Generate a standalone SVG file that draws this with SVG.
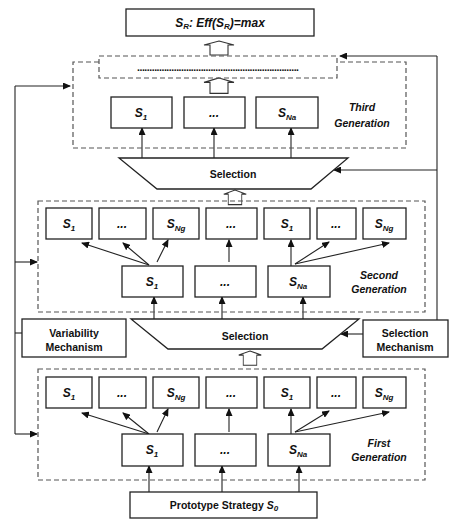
<svg xmlns="http://www.w3.org/2000/svg" width="474" height="527" viewBox="0 0 474 527" xmlns:xlink="http://www.w3.org/1999/xlink">
<style>
.box{fill:#fff;stroke:#222;stroke-width:1.3}
.dash{fill:none;stroke:#555;stroke-width:1.2;stroke-dasharray:5,3}
.ln{fill:none;stroke:#222;stroke-width:1.1}
.t{font-family:"Liberation Sans",Arial,sans-serif;font-weight:bold;font-size:10.5px;fill:#111;text-anchor:middle}
.i{font-style:italic}
.s{font-family:"Liberation Sans",Arial,sans-serif;font-weight:bold;font-style:italic;font-size:12px;fill:#111;text-anchor:middle}
.sub{font-size:8px}
.hol{fill:#fff;stroke:#333;stroke-width:1.1}
</style>
<defs>
<marker id="ah" markerWidth="8" markerHeight="7" refX="7" refY="3.5" orient="auto" markerUnits="userSpaceOnUse">
<path d="M0,0 L8,3.5 L0,7 Z" fill="#111"/>
</marker>
<path id="hollow" d="M0,0 L15,4 L9,4 L9,14 L-9,14 L-9,4 L-15,4 Z"/>
</defs>

<g id="connectors">
<path class="ln" d="M15,86 V434"/>
<path class="ln" d="M15,86 H70" marker-end="url(#ah)"/>
<path class="ln" d="M15,262 H37" marker-end="url(#ah)"/>
<path class="ln" d="M15,434 H37" marker-end="url(#ah)"/>
<path class="ln" d="M15,333 H22"/>
<path class="ln" d="M437,56 V320"/>
<path class="ln" d="M437,56 H340" marker-end="url(#ah)"/>
<path class="ln" d="M437,170 H334" marker-end="url(#ah)"/>
<path class="ln" d="M363,334 H341" marker-end="url(#ah)"/>
<path class="ln" d="M149,492 V466" marker-end="url(#ah)"/>
<path class="ln" d="M222,492 V466" marker-end="url(#ah)"/>
<path class="ln" d="M299,492 V466" marker-end="url(#ah)"/>
<path class="ln" d="M149,434 L82,413" marker-end="url(#ah)"/>
<path class="ln" d="M149,434 L123,413" marker-end="url(#ah)"/>
<path class="ln" d="M157,432 L168,409" marker-end="url(#ah)"/>
<path class="ln" d="M229,432 V409" marker-end="url(#ah)"/>
<path class="ln" d="M291,434 V409" marker-end="url(#ah)"/>
<path class="ln" d="M295,432 L329,411" marker-end="url(#ah)"/>
<path class="ln" d="M295,432 L389,412" marker-end="url(#ah)"/>
<path class="ln" d="M154,319 V297" marker-end="url(#ah)"/>
<path class="ln" d="M222,319 V297" marker-end="url(#ah)"/>
<path class="ln" d="M303,319 V297" marker-end="url(#ah)"/>
<path class="ln" d="M149,265 L82,243" marker-end="url(#ah)"/>
<path class="ln" d="M149,265 L123,243" marker-end="url(#ah)"/>
<path class="ln" d="M157,262 L168,240" marker-end="url(#ah)"/>
<path class="ln" d="M229,262 V240" marker-end="url(#ah)"/>
<path class="ln" d="M291,266 V240" marker-end="url(#ah)"/>
<path class="ln" d="M295,264 L329,242" marker-end="url(#ah)"/>
<path class="ln" d="M295,264 L389,243" marker-end="url(#ah)"/>
<path class="ln" d="M142,158 V128" marker-end="url(#ah)"/>
<path class="ln" d="M214,158 V128" marker-end="url(#ah)"/>
<path class="ln" d="M291,158 V128" marker-end="url(#ah)"/>
<use href="#hollow" xlink:href="#hollow" class="hol" transform="translate(219,41)"/>
<use href="#hollow" xlink:href="#hollow" class="hol" transform="translate(219,78) scale(1,1.1)"/>
<use href="#hollow" xlink:href="#hollow" class="hol" transform="translate(235,190) scale(0.75,1.05)"/>
<use href="#hollow" xlink:href="#hollow" class="hol" transform="translate(250,351) scale(0.75,1.02)"/>
</g>

<g id="result">
<rect class="box" x="126" y="9" width="188" height="27"/>
<text class="s" x="220" y="27" font-size="11">S<tspan class="sub" dy="2">R</tspan><tspan dy="-2">:  Eff(S</tspan><tspan class="sub" dy="2">R</tspan><tspan dy="-2">)=max</tspan></text>
</g>

<g id="third-generation">
<path class="dash" d="M99,62 H73 V148 H406 V62 H337"/>
<rect class="dash" x="99" y="56" width="238" height="22"/>
<text class="t" x="218" y="71" font-size="12" textLength="162" lengthAdjust="spacing">..................................................................</text>
<text class="t i" x="362" y="111" font-size="11">Third</text>
<text class="t i" x="362" y="127" font-size="11">Generation</text>
</g>
<g id="g3-s1"><rect class="box" x="111" y="97" width="61" height="31"/><text class="s" x="141" y="117">S<tspan class="sub" dy="3">1</tspan></text></g>
<g id="g3-dots"><rect class="box" x="184" y="97" width="61" height="31"/><text class="s" x="214" y="117">...</text></g>
<g id="g3-sna"><rect class="box" x="256" y="97" width="62" height="31"/><text class="s" x="287" y="117">S<tspan class="sub" dy="3">Na</tspan></text></g>

<g id="selection-upper">
<path class="box" d="M119,158 H348 L311,189 H157 Z"/>
<text class="t" x="233" y="178">Selection</text>
</g>

<g id="second-generation">
<rect class="dash" x="38" y="201" width="387" height="111"/>
<text class="t i" x="379" y="279" font-size="11">Second</text>
<text class="t i" x="379" y="293" font-size="11">Generation</text>
</g>
<g id="g2-t1"><rect class="box" x="46" y="208" width="46" height="31"/><text class="s" x="69" y="228">S<tspan class="sub" dy="3">1</tspan></text></g>
<g id="g2-t2"><rect class="box" x="99" y="208" width="47" height="31"/><text class="s" x="122" y="228">...</text></g>
<g id="g2-t3"><rect class="box" x="153" y="208" width="46" height="31"/><text class="s" x="176" y="228">S<tspan class="sub" dy="3">Ng</tspan></text></g>
<g id="g2-t4"><rect class="box" x="206" y="208" width="51" height="31"/><text class="s" x="231" y="228">...</text></g>
<g id="g2-t5"><rect class="box" x="264" y="208" width="46" height="31"/><text class="s" x="287" y="228">S<tspan class="sub" dy="3">1</tspan></text></g>
<g id="g2-t6"><rect class="box" x="317" y="208" width="39" height="31"/><text class="s" x="336" y="228">...</text></g>
<g id="g2-t7"><rect class="box" x="363" y="208" width="43" height="31"/><text class="s" x="384" y="228">S<tspan class="sub" dy="3">Ng</tspan></text></g>
<g id="g2-s1"><rect class="box" x="122" y="266" width="61" height="31"/><text class="s" x="152" y="286">S<tspan class="sub" dy="3">1</tspan></text></g>
<g id="g2-dots"><rect class="box" x="195" y="266" width="61" height="31"/><text class="s" x="225" y="286">...</text></g>
<g id="g2-sna"><rect class="box" x="268" y="266" width="62" height="31"/><text class="s" x="298" y="286">S<tspan class="sub" dy="3">Na</tspan></text></g>

<g id="variability-mechanism">
<rect class="box" x="22" y="319" width="104" height="38"/>
<text class="t" x="74" y="337">Variability</text>
<text class="t" x="74" y="351">Mechanism</text>
</g>

<g id="selection-mechanism">
<rect class="box" x="363" y="320" width="85" height="37"/>
<text class="t" x="405" y="337">Selection</text>
<text class="t" x="405" y="351">Mechanism</text>
</g>

<g id="selection-lower">
<path class="box" d="M131,319 H359 L322,349 H168 Z"/>
<text class="t" x="245" y="340">Selection</text>
</g>

<g id="first-generation">
<rect class="dash" x="38" y="369" width="387" height="111"/>
<text class="t i" x="379" y="447" font-size="11">First</text>
<text class="t i" x="379" y="461" font-size="11">Generation</text>
</g>
<g id="g1-t1"><rect class="box" x="46" y="377" width="46" height="31"/><text class="s" x="69" y="397">S<tspan class="sub" dy="3">1</tspan></text></g>
<g id="g1-t2"><rect class="box" x="99" y="377" width="47" height="31"/><text class="s" x="122" y="397">...</text></g>
<g id="g1-t3"><rect class="box" x="153" y="377" width="46" height="31"/><text class="s" x="176" y="397">S<tspan class="sub" dy="3">Ng</tspan></text></g>
<g id="g1-t4"><rect class="box" x="206" y="377" width="51" height="31"/><text class="s" x="231" y="397">...</text></g>
<g id="g1-t5"><rect class="box" x="264" y="377" width="46" height="31"/><text class="s" x="287" y="397">S<tspan class="sub" dy="3">1</tspan></text></g>
<g id="g1-t6"><rect class="box" x="317" y="377" width="39" height="31"/><text class="s" x="336" y="397">...</text></g>
<g id="g1-t7"><rect class="box" x="363" y="377" width="43" height="31"/><text class="s" x="384" y="397">S<tspan class="sub" dy="3">Ng</tspan></text></g>
<g id="g1-s1"><rect class="box" x="122" y="434" width="61" height="32"/><text class="s" x="152" y="454">S<tspan class="sub" dy="3">1</tspan></text></g>
<g id="g1-dots"><rect class="box" x="195" y="434" width="61" height="32"/><text class="s" x="225" y="454">...</text></g>
<g id="g1-sna"><rect class="box" x="268" y="434" width="62" height="32"/><text class="s" x="298" y="454">S<tspan class="sub" dy="3">Na</tspan></text></g>

<g id="prototype">
<rect class="box" x="130" y="492" width="187" height="26"/>
<text class="t" x="224" y="509">Prototype Strategy <tspan class="i">S</tspan><tspan class="i sub" dy="2">0</tspan></text>
</g>
</svg>
